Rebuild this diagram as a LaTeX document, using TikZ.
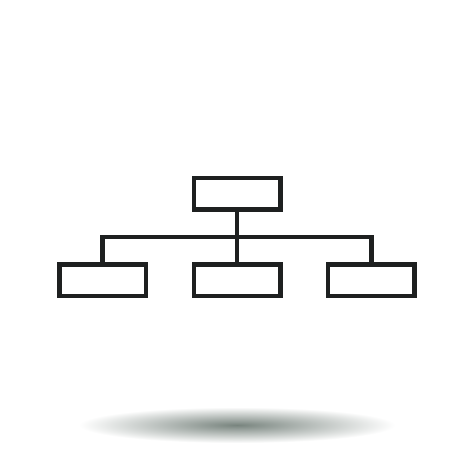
\documentclass[tikz,border=0pt]{standalone}
\usetikzlibrary{positioning}
\colorlet{background}{white}
\definecolor{penColor}{RGB}{30,32,32}
\definecolor{shadowColor}{RGB}{120,132,126}
\tikzset{orgbox/.style={draw=penColor,line width=4.5pt,minimum width=86.5pt,minimum height=31.5pt,inner sep=0pt},
  link/.style={draw=penColor,line width=4.5pt}}

\begin{document}
\begin{tikzpicture}[x=1pt,y=-1pt]
      \useasboundingbox[fill=background] (0,0) rectangle (474,474);
      % shadow under the chart
      \shade[inner color=shadowColor,outer color=background] (237,425) ellipse [x radius=158pt,y radius=18pt];
      \node[orgbox] (top) at (237.2,193.7) {};
      \node[orgbox] (left) at (102.7,280.3) {};
      \node[orgbox] (mid) at (237.2,280.3) {};
      \node[orgbox] (right) at (371.3,280.3) {};
      \coordinate (bar) at (237.2,237.2);
      \draw[link] (top) -- (mid);
      \draw[link] (left.north) |- (bar) -| (right.north);
    \end{tikzpicture}
\end{document}
